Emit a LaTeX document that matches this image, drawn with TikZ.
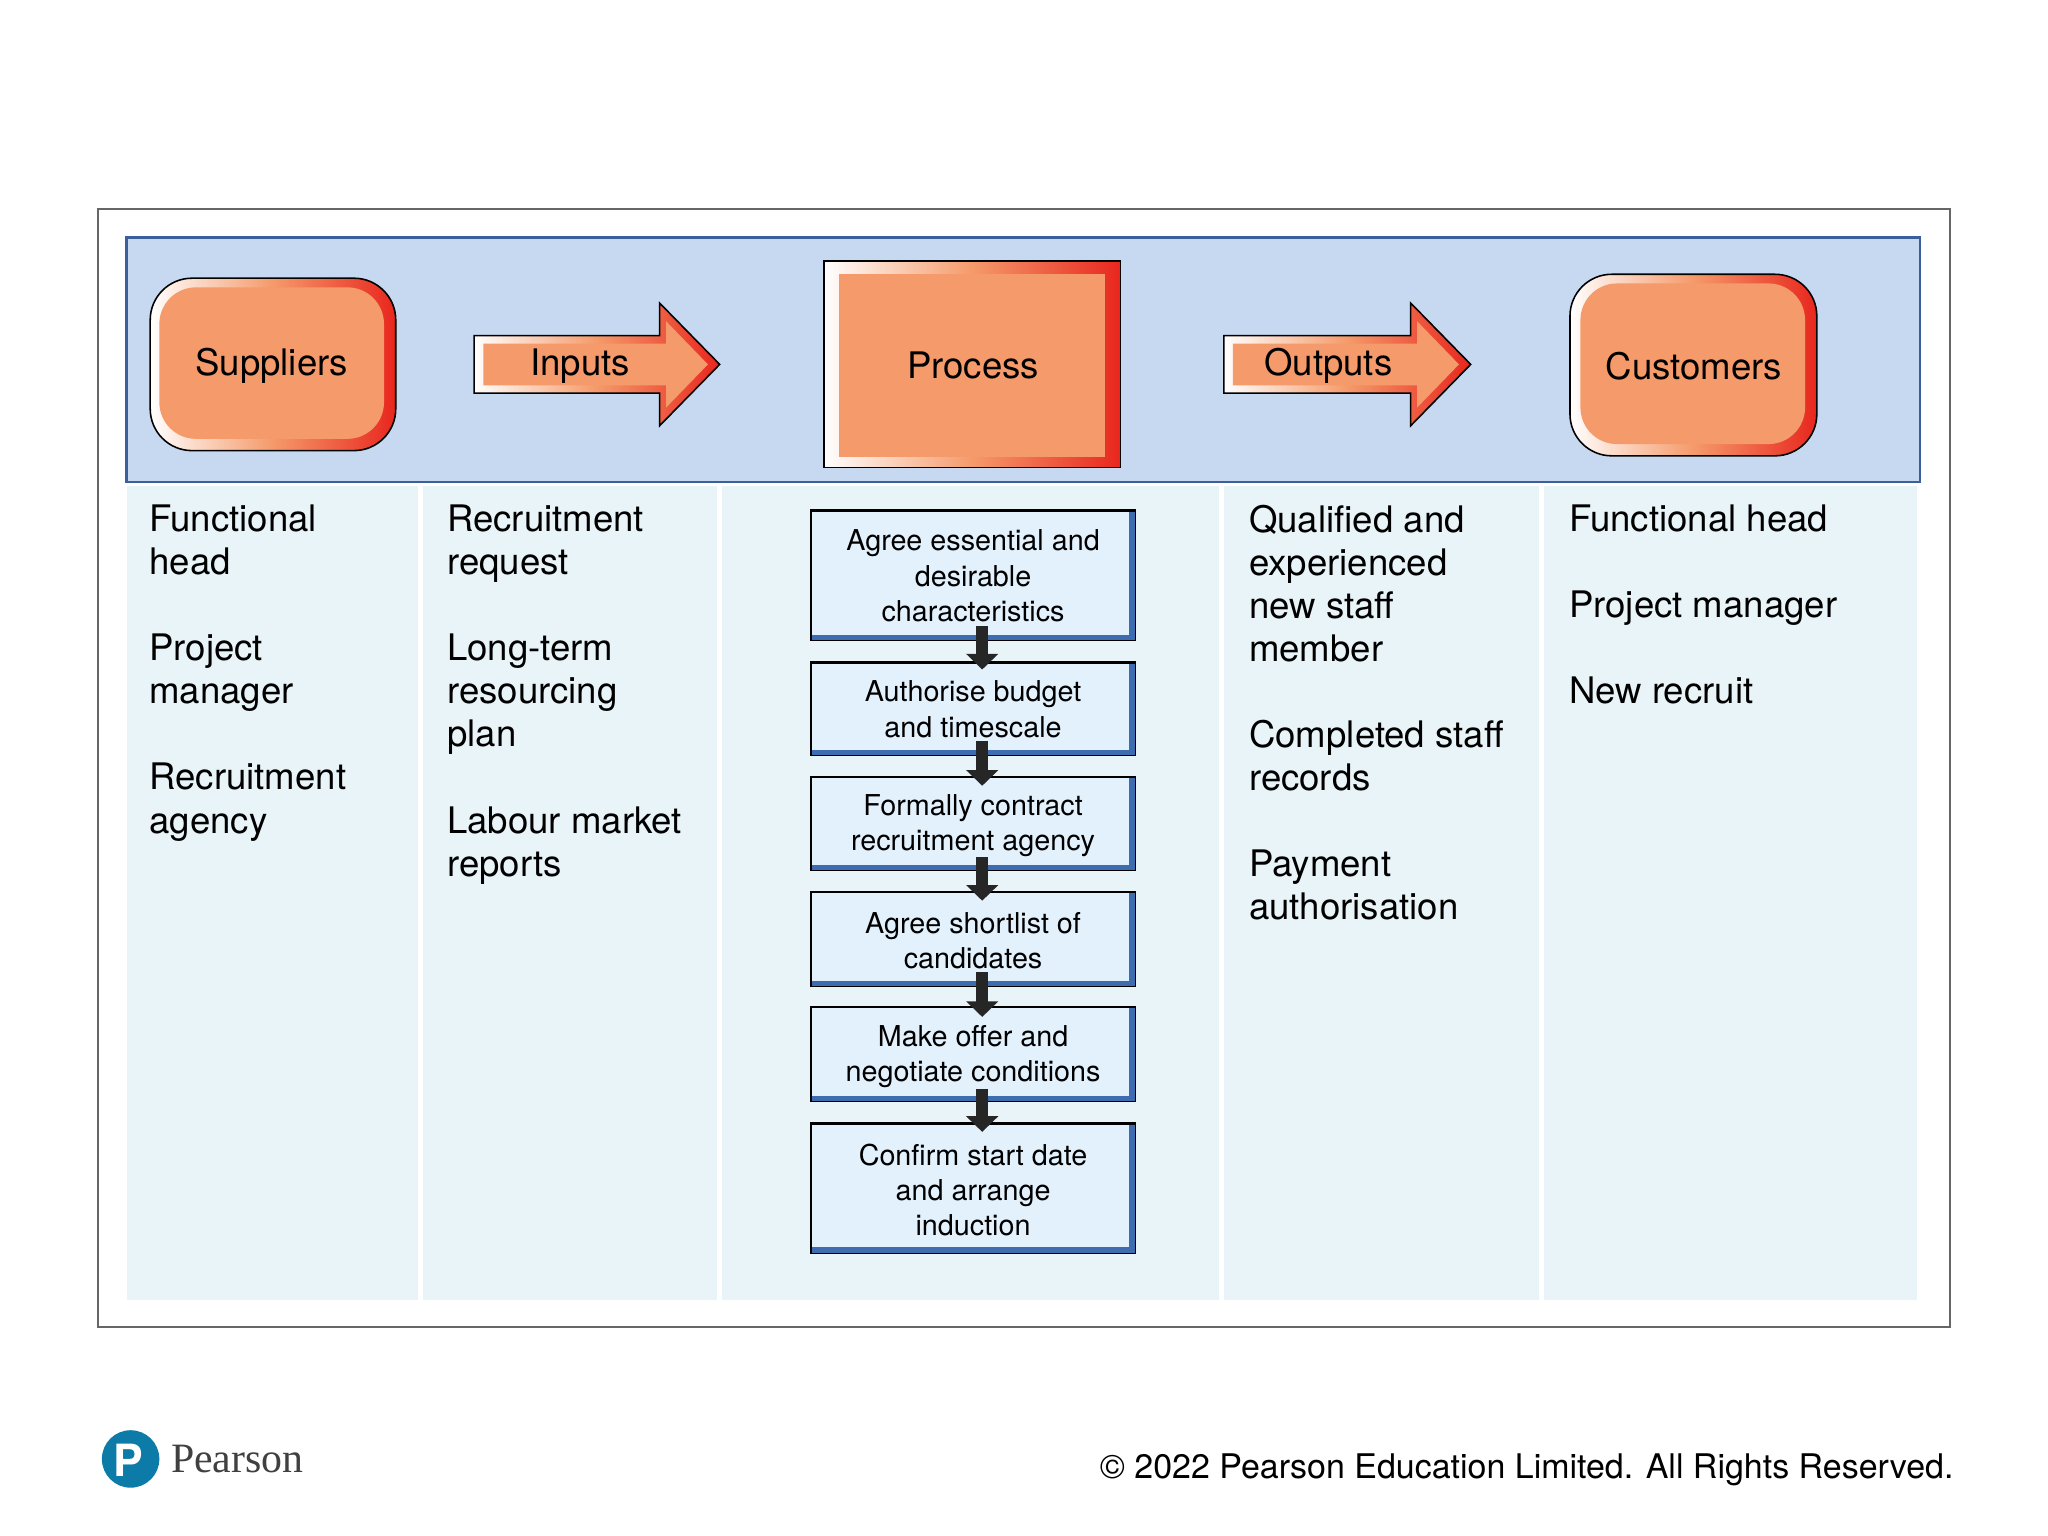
\documentclass[tikz,border=0pt]{standalone}
\usepackage{fontspec}
\setmainfont{TeX Gyre Heros}
\newfontfamily\serifP{Liberation Serif}
\usetikzlibrary{arrows.meta}
\definecolor{band}{HTML}{C6D9F0}
\definecolor{bandline}{HTML}{3A5F9A}
\definecolor{col}{HTML}{E9F4F8}
\definecolor{orng}{HTML}{F59A6A}
\definecolor{redd}{HTML}{E8261E}
\definecolor{stepbg}{HTML}{E3F1FC}
\definecolor{stepblue}{HTML}{3D6DB0}
\definecolor{pblue}{HTML}{0C7BA8}
\tikzset{
  big/.style={font=\fontsize{14}{16.5}\selectfont},
  lst/.style={big,anchor=north west,align=left,inner sep=0pt},
  stp/.style={font=\fontsize{11}{13.5}\selectfont,align=center,inner sep=0pt},
  shade3/.style={left color=white,right color=redd,middle color=orng},
  darr/.style={line width=4.5pt,-{Triangle[width=12pt,length=6pt]},color=black!85},
}
\newcommand{\stepbox}[4]{%
  \fill[black] (#1,#2) rectangle (#3,#4);
  \fill[stepblue] (#1+2,#2+2) rectangle (#3-1,#4-1);
  \fill[stepbg] (#1+2,#2+2) rectangle (#3-6,#4-5);
}
\begin{document}
\begin{tikzpicture}[x=0.5pt,y=-0.5pt]
\useasboundingbox (0,0) rectangle (1568,1176);
\fill[white] (0,0) rectangle (1568,1176);
% frame
\draw[gray!80!black,line width=0.6pt] (75,160) rectangle (1493,1016);
% columns
\foreach \a/\b in {97/320,324/549,553/933,937/1178,1182/1468}
  \fill[col] (\a,372) rectangle (\b,995);
% top band
\draw[bandline,fill=band,line width=1pt] (97,182) rectangle (1470,369);
% Suppliers
\draw[black,shade3,rounded corners=16pt,line width=0.6pt] (115,213) rectangle (303,345);
\fill[orng,rounded corners=14pt] (122,220) rectangle (294,336);
\node[big] (sup) at (208,280) {Suppliers};
% Inputs arrow
\draw[black,shade3,line width=0.6pt] (363,257) -- (505,257) -- (505,232) -- (551,279) -- (505,326) -- (505,301) -- (363,301) -- cycle;
\fill[orng] (370,263) -- (510,263) -- (510,246) -- (542,279) -- (510,312) -- (510,295) -- (370,295) -- cycle;
\node[big] (inp) at (444,280) {Inputs};
% Process
\draw[black,shade3,line width=0.6pt] (631,200) rectangle (858,358);
\fill[orng] (642,210) rectangle (846,350);
\node[big] (proc) at (745,280) {Process};
% Outputs arrow
\draw[black,shade3,line width=0.6pt] (937,257) -- (1080,257) -- (1080,232) -- (1126,279) -- (1080,326) -- (1080,301) -- (937,301) -- cycle;
\fill[orng] (944,263) -- (1085,263) -- (1085,246) -- (1117,279) -- (1085,312) -- (1085,295) -- (944,295) -- cycle;
\node[big] (out) at (1017,280) {Outputs};
% Customers
\draw[black,shade3,rounded corners=16pt,line width=0.6pt] (1202,210) rectangle (1391,349);
\fill[orng,rounded corners=14pt] (1210,217) rectangle (1382,340);
\node[big] (cus) at (1297,280) {Customers};
% lists
\node[lst] (l1) at (114,386) {Functional\\head\\[16.5pt]Project\\manager\\[16.5pt]Recruitment\\agency};
\node[lst] (l2) at (342,386) {Recruitment\\request\\[16.5pt]Long-term\\resourcing\\plan\\[16.5pt]Labour market\\reports};
\node[lst] (l4) at (956,386) {Qualified and\\experienced\\new staff\\member\\[16.5pt]Completed staff\\records\\[16.5pt]Payment\\authorisation};
\node[lst] (l5) at (1201,386) {Functional head\\[16.5pt]Project manager\\[16.5pt]New recruit};
% steps
\stepbox{620}{390}{870}{491}
\stepbox{620}{506}{870}{579}
\stepbox{620}{594}{870}{667}
\stepbox{620}{682}{870}{756}
\stepbox{620}{770}{870}{844}
\stepbox{620}{859}{870}{960}
\node[stp,minimum width=125pt,minimum height=50pt] (s1) at (745,441) {Agree essential and\\desirable\\characteristics};
\node[stp,minimum width=125pt,minimum height=36pt] (s2) at (745,543) {Authorise budget\\and timescale};
\node[stp,minimum width=125pt,minimum height=36pt] (s3) at (745,632) {Formally contract\\recruitment agency};
\node[stp,minimum width=125pt,minimum height=36pt] (s4) at (745,720) {Agree shortlist of\\candidates};
\node[stp,minimum width=125pt,minimum height=36pt] (s5) at (745,809) {Make offer and\\negotiate conditions};
\node[stp,minimum width=125pt,minimum height=50pt] (s6) at (745,911) {Confirm start date\\and arrange\\induction};
\foreach \a/\b in {s1/s2,s2/s3,s3/s4,s4/s5,s5/s6}
  \draw[darr] ([xshift=3.5pt,yshift=6pt]\a.south) -- ([xshift=3.5pt,yshift=-3pt]\b.north);
% footer
\fill[pblue] (100,1117) circle (22);
\node[text=white,font=\bfseries\fontsize{17}{17}\selectfont] (plogo) at (98,1118) {P};
\node[anchor=west,font=\serifP\fontsize{16}{16}\selectfont,text=black!75] (pname) at (124,1117) {Pearson};
\node[anchor=east,font=\fontsize{13}{13}\selectfont,inner sep=0pt] (copy) at (1496,1125) {© 2022 Pearson Education Limited. All Rights Reserved.};
\end{tikzpicture}
\end{document}
